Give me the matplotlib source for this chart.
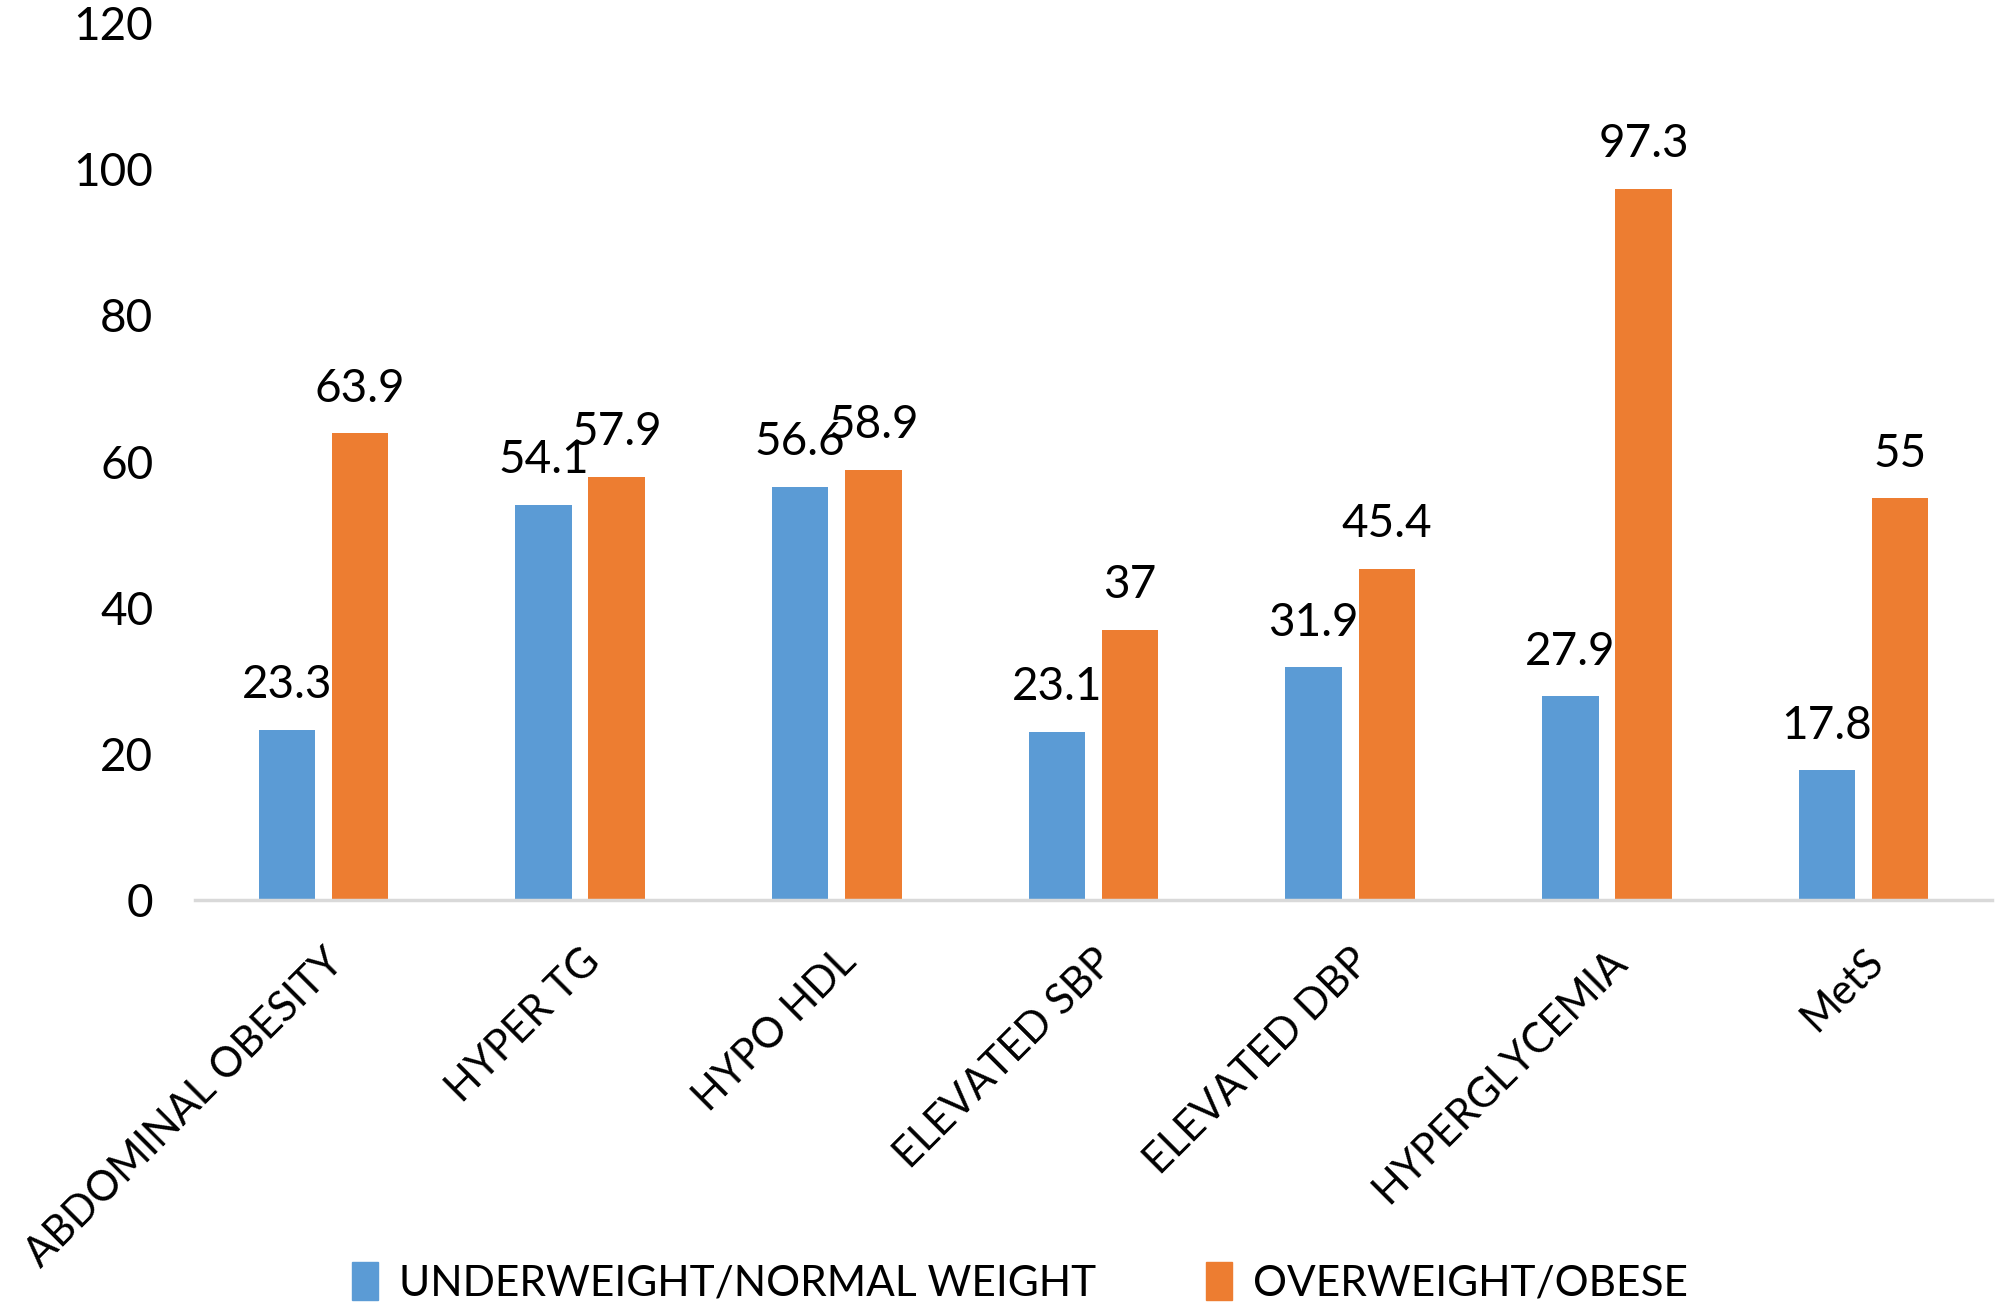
import numpy as np
import matplotlib.pyplot as plt
from matplotlib.patches import Patch

plt.rcParams['font.family'] = ['Lato', 'DejaVu Sans']

categories = ["ABDOMINAL OBESITY", "HYPER TG", "HYPO HDL", "ELEVATED SBP",
              "ELEVATED DBP", "HYPERGLYCEMIA", "MetS"]
normal_weight = [23.3, 54.1, 56.6, 23.1, 31.9, 27.9, 17.8]
overweight = [63.9, 57.9, 58.9, 37, 45.4, 97.3, 55]
series_names = ["UNDERWEIGHT/NORMAL WEIGHT", "OVERWEIGHT/OBESE"]
y_ticks = [0, 20, 40, 60, 80, 100, 120]

BLUE = '#5B9BD5'
ORANGE = '#ED7D31'

fig = plt.figure(figsize=(20, 13.14), dpi=100)
ax = fig.add_axes([0.0975, 0.3147, 0.8985, 0.6678])

x = np.arange(len(categories))
w = 0.22
gap = 0.065
off = (w + gap) / 2

bars1 = ax.bar(x - off, normal_weight, w, color=BLUE)
bars2 = ax.bar(x + off, overweight, w, color=ORANGE)

# value labels above each bar
for bars, vals in [(bars1, normal_weight), (bars2, overweight)]:
    for b, v in zip(bars, vals):
        ax.annotate(f"{v:g}", (b.get_x() + b.get_width() / 2, v),
                    xytext=(0, 17), textcoords='offset points',
                    ha='center', va='bottom', fontsize=33, color='black')

ax.set_xlim(-0.5, len(categories) - 0.5)
ax.set_ylim(0, 120)
ax.set_yticks(y_ticks)
ax.set_yticklabels([str(t) for t in y_ticks], fontsize=33)
ax.set_xticks(x)
ax.set_xticklabels(categories, fontsize=30, rotation=45, ha='right',
                   rotation_mode='anchor')
ax.tick_params(axis='y', length=0, pad=30)
ax.tick_params(axis='x', length=0, pad=30)

for side in ['top', 'right', 'left']:
    ax.spines[side].set_visible(False)
ax.spines['bottom'].set_color('#D9D9D9')
ax.spines['bottom'].set_linewidth(2.5)

handles = [Patch(color=BLUE), Patch(color=ORANGE)]
fig.legend(handles, series_names, loc='center', bbox_to_anchor=(0.51, 0.024),
           ncol=2, frameon=False, fontsize=30.5, handlelength=0.6,
           handleheight=1.0, handletextpad=0.5, columnspacing=2.6)

fig.savefig('out.png', dpi=100)
